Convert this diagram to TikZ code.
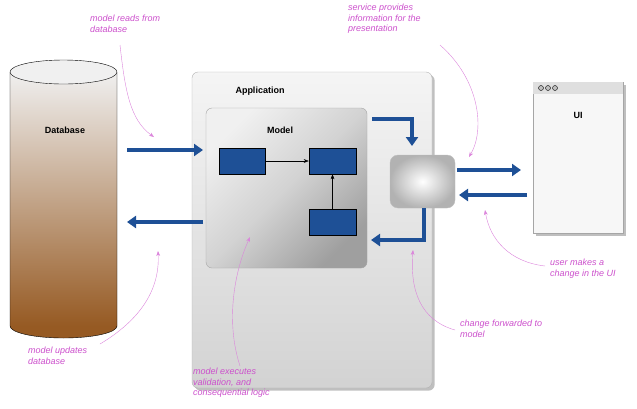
\documentclass[tikz,border=0pt]{standalone}
\usepackage{fontspec}
\setmainfont{Liberation Sans}
\usetikzlibrary{arrows.meta,shadows}
\definecolor{pk}{RGB}{204,80,204}
\definecolor{bl}{RGB}{30,80,150}
\definecolor{br}{RGB}{150,90,35}
\begin{document}
\begin{tikzpicture}[x=1pt,y=-1pt,
 note/.style={font=\fontsize{9}{10.5}\selectfont\itshape,text=pk,align=left,anchor=north west,inner sep=0},
 nl/.style={draw=pk!70,thin,-{Stealth[length=5pt]}},
 big/.style={draw=bl,line width=3.5pt,-{Triangle[length=9pt,width=12pt]}},
 box/.style={draw=black,fill=bl,line width=0.5pt},
 ttl/.style={font=\fontsize{9}{10}\selectfont\bfseries}]
\useasboundingbox (0,0) rectangle (637,408);
% database
\fill[top color=white!88!gray,bottom color=br] (10,72) rectangle (117,326);
\fill[br] (10,326) arc[start angle=180,end angle=360,x radius=53.5,y radius=-12] -- cycle;
\draw (10,72) -- (10,326) arc[start angle=180,end angle=360,x radius=53.5,y radius=-12] -- (117,72);
\draw[fill=white!88!gray] (63.5,72) ellipse[x radius=53.5,y radius=12];
\node[ttl] (db) at (65,130) {Database};
% application
\node[draw=gray!60,rounded corners=6pt,minimum width=240,minimum height=316,top color=gray!8,bottom color=gray!35,drop shadow] (app) at (312,230) {};
\node[ttl] (apt) at (260,91) {Application};
\node[rounded corners=6pt,minimum width=161,minimum height=160,top color=gray!75,bottom color=gray!12,middle color=gray!35,shading angle=-135,draw=gray!70] (model) at (286.5,188) {};
\node[ttl] (mt) at (280,130) {Model};
\node[box,minimum width=46,minimum height=26] (b1) at (242,161) {};
\node[box,minimum width=47,minimum height=26] (b2) at (332.5,161) {};
\node[box,minimum width=47,minimum height=26] (b3) at (332.5,222) {};
\draw[-{Stealth[length=5pt]}] (b1) -- (b2);
\draw[-{Stealth[length=5pt]}] (b3) -- (b2);
% service
\node[rounded corners=8pt,minimum width=65,minimum height=53,inner color=white,outer color=gray!60,draw=gray!50] (svc) at (422.5,181.5) {};
% UI
\node[draw=gray!70,fill=gray!6,minimum width=90,minimum height=151,drop shadow] (ui) at (578,157.5) {};
\fill[gray!25] (533,82) rectangle (623,94);
\foreach \i in {541,548,555} \draw[fill=gray!50] (\i,88) circle (2.5);
\node[ttl] (uit) at (578,115) {UI};
% blue arrows
\coordinate (a1) at (127,150); \coordinate (a2) at (203,150);
\draw[big] (a1) -- (a2);
\coordinate (a3) at (203,222); \coordinate (a4) at (127,222);
\draw[big] (a3) -- (a4);
\coordinate (c1) at (372,119); \coordinate (c2) at (412,146);
\draw[big] (c1) -| (c2);
\coordinate (d1) at (424,208); \coordinate (d2) at (371,240);
\draw[big] (d1) |- (d2);
\coordinate (e1) at (457,170); \coordinate (e2) at (521,170);
\draw[big] (e1) -- (e2);
\coordinate (f1) at (527,195); \coordinate (f2) at (459,195);
\draw[big] (f1) -- (f2);
% notes
\node[note] (n1) at (90,15) {model reads from\\database};
\draw[nl] (120,45) .. controls (125,90) and (130,120) .. (154,137);
\node[note] (n2) at (348,4) {service provides\\information for the\\presentation};
\draw[nl] (440,45) .. controls (480,80) and (485,130) .. (469,157);
\node[note] (n3) at (550,259) {user makes a\\change in the UI};
\draw[nl] (545,266) .. controls (510,262) and (490,240) .. (485,210);
\node[note] (n4) at (460,320) {change forwarded to\\model};
\draw[nl] (455,330) .. controls (420,320) and (410,290) .. (413,250);
\node[note] (n5) at (193,368) {model executes\\validation, and\\consequential logic};
\draw[nl] (240,366) .. controls (225,320) and (235,270) .. (250,237);
\node[note] (n6) at (28,347) {model updates\\database};
\draw[nl] (100,344) .. controls (140,320) and (160,290) .. (158,251);
\end{tikzpicture}
\end{document}
